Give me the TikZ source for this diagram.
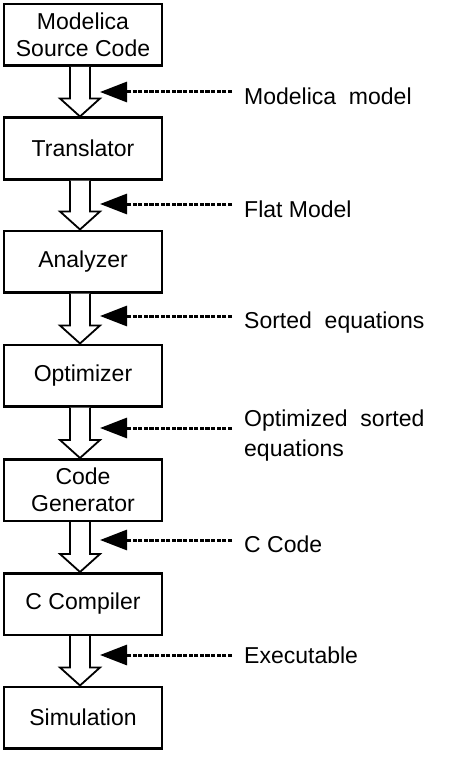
\documentclass[tikz,border=0pt]{standalone}
\usepackage{fontspec}
\setmainfont{Liberation Sans}
\usetikzlibrary{arrows.meta,calc}
\tikzset{
  stage/.style={draw=black, line width=2.5pt, rectangle, minimum width=158pt, minimum height=61.5pt,
    inner sep=0pt, align=center, font=\fontsize{23}{27}\selectfont},
  hollow/.style={draw=black, line width=1.8pt, fill=white, line join=miter},
  feed/.style={line width=3pt, dash pattern=on 4.2pt off 1.4pt, -{Triangle[length=27pt,width=20pt]}},
  lbl/.style={anchor=base west, inner sep=0pt, align=left, font=\fontsize{23}{30}\selectfont}
}
\newcommand{\hollowarrow}[2]{%
  \draw[hollow] let \p1=(#1.south), \p2=(#2.north) in
    (\x1-13pt,\y1) -- (\x1-13pt,\y2+18pt) -- (\x1-23pt,\y2+18pt) -- (\x1-3pt,\y2)
    -- (\x1+17pt,\y2+18pt) -- (\x1+7pt,\y2+18pt) -- (\x1+7pt,\y1);}
\begin{document}
\begin{tikzpicture}[x=1pt,y=-1pt]
\useasboundingbox (0,0) rectangle (474,762);
\node[stage] (b1) at (83,35) {Modelica\\Source Code};
\node[stage] (b2) at (83,148.5) {Translator};
\node[stage] (b3) at (83,261.5) {Analyzer};
\node[stage] (b4) at (83,375.5) {Optimizer};
\node[stage] (b5) at (83,490) {Code\\Generator};
\node[stage] (b6) at (83,604) {C Compiler};
\node[stage] (b7) at (83,717.5) {Simulation};
\hollowarrow{b1}{b2}
\hollowarrow{b2}{b3}
\hollowarrow{b3}{b4}
\hollowarrow{b4}{b5}
\hollowarrow{b5}{b6}
\hollowarrow{b6}{b7}
\node[lbl] (l1) at (244,105) {Modelica~~model};
\node[lbl] (l2) at (244,217) {Flat Model};
\node[lbl] (l3) at (244,328) {Sorted~~equations};
\node[lbl] (l4) at (244,456) {Optimized~~sorted\\equations};
\node[lbl] (l5) at (244,552) {C Code};
\node[lbl] (l6) at (244,663) {Executable};
\foreach \i/\y in {1/92,2/204,3/316,4/428,5/540,6/655}{
  \coordinate (s\i) at (232,\y);
  \coordinate (t\i) at (100,\y);
  \draw[feed] (s\i) -- (t\i);
}
\end{tikzpicture}
\end{document}
